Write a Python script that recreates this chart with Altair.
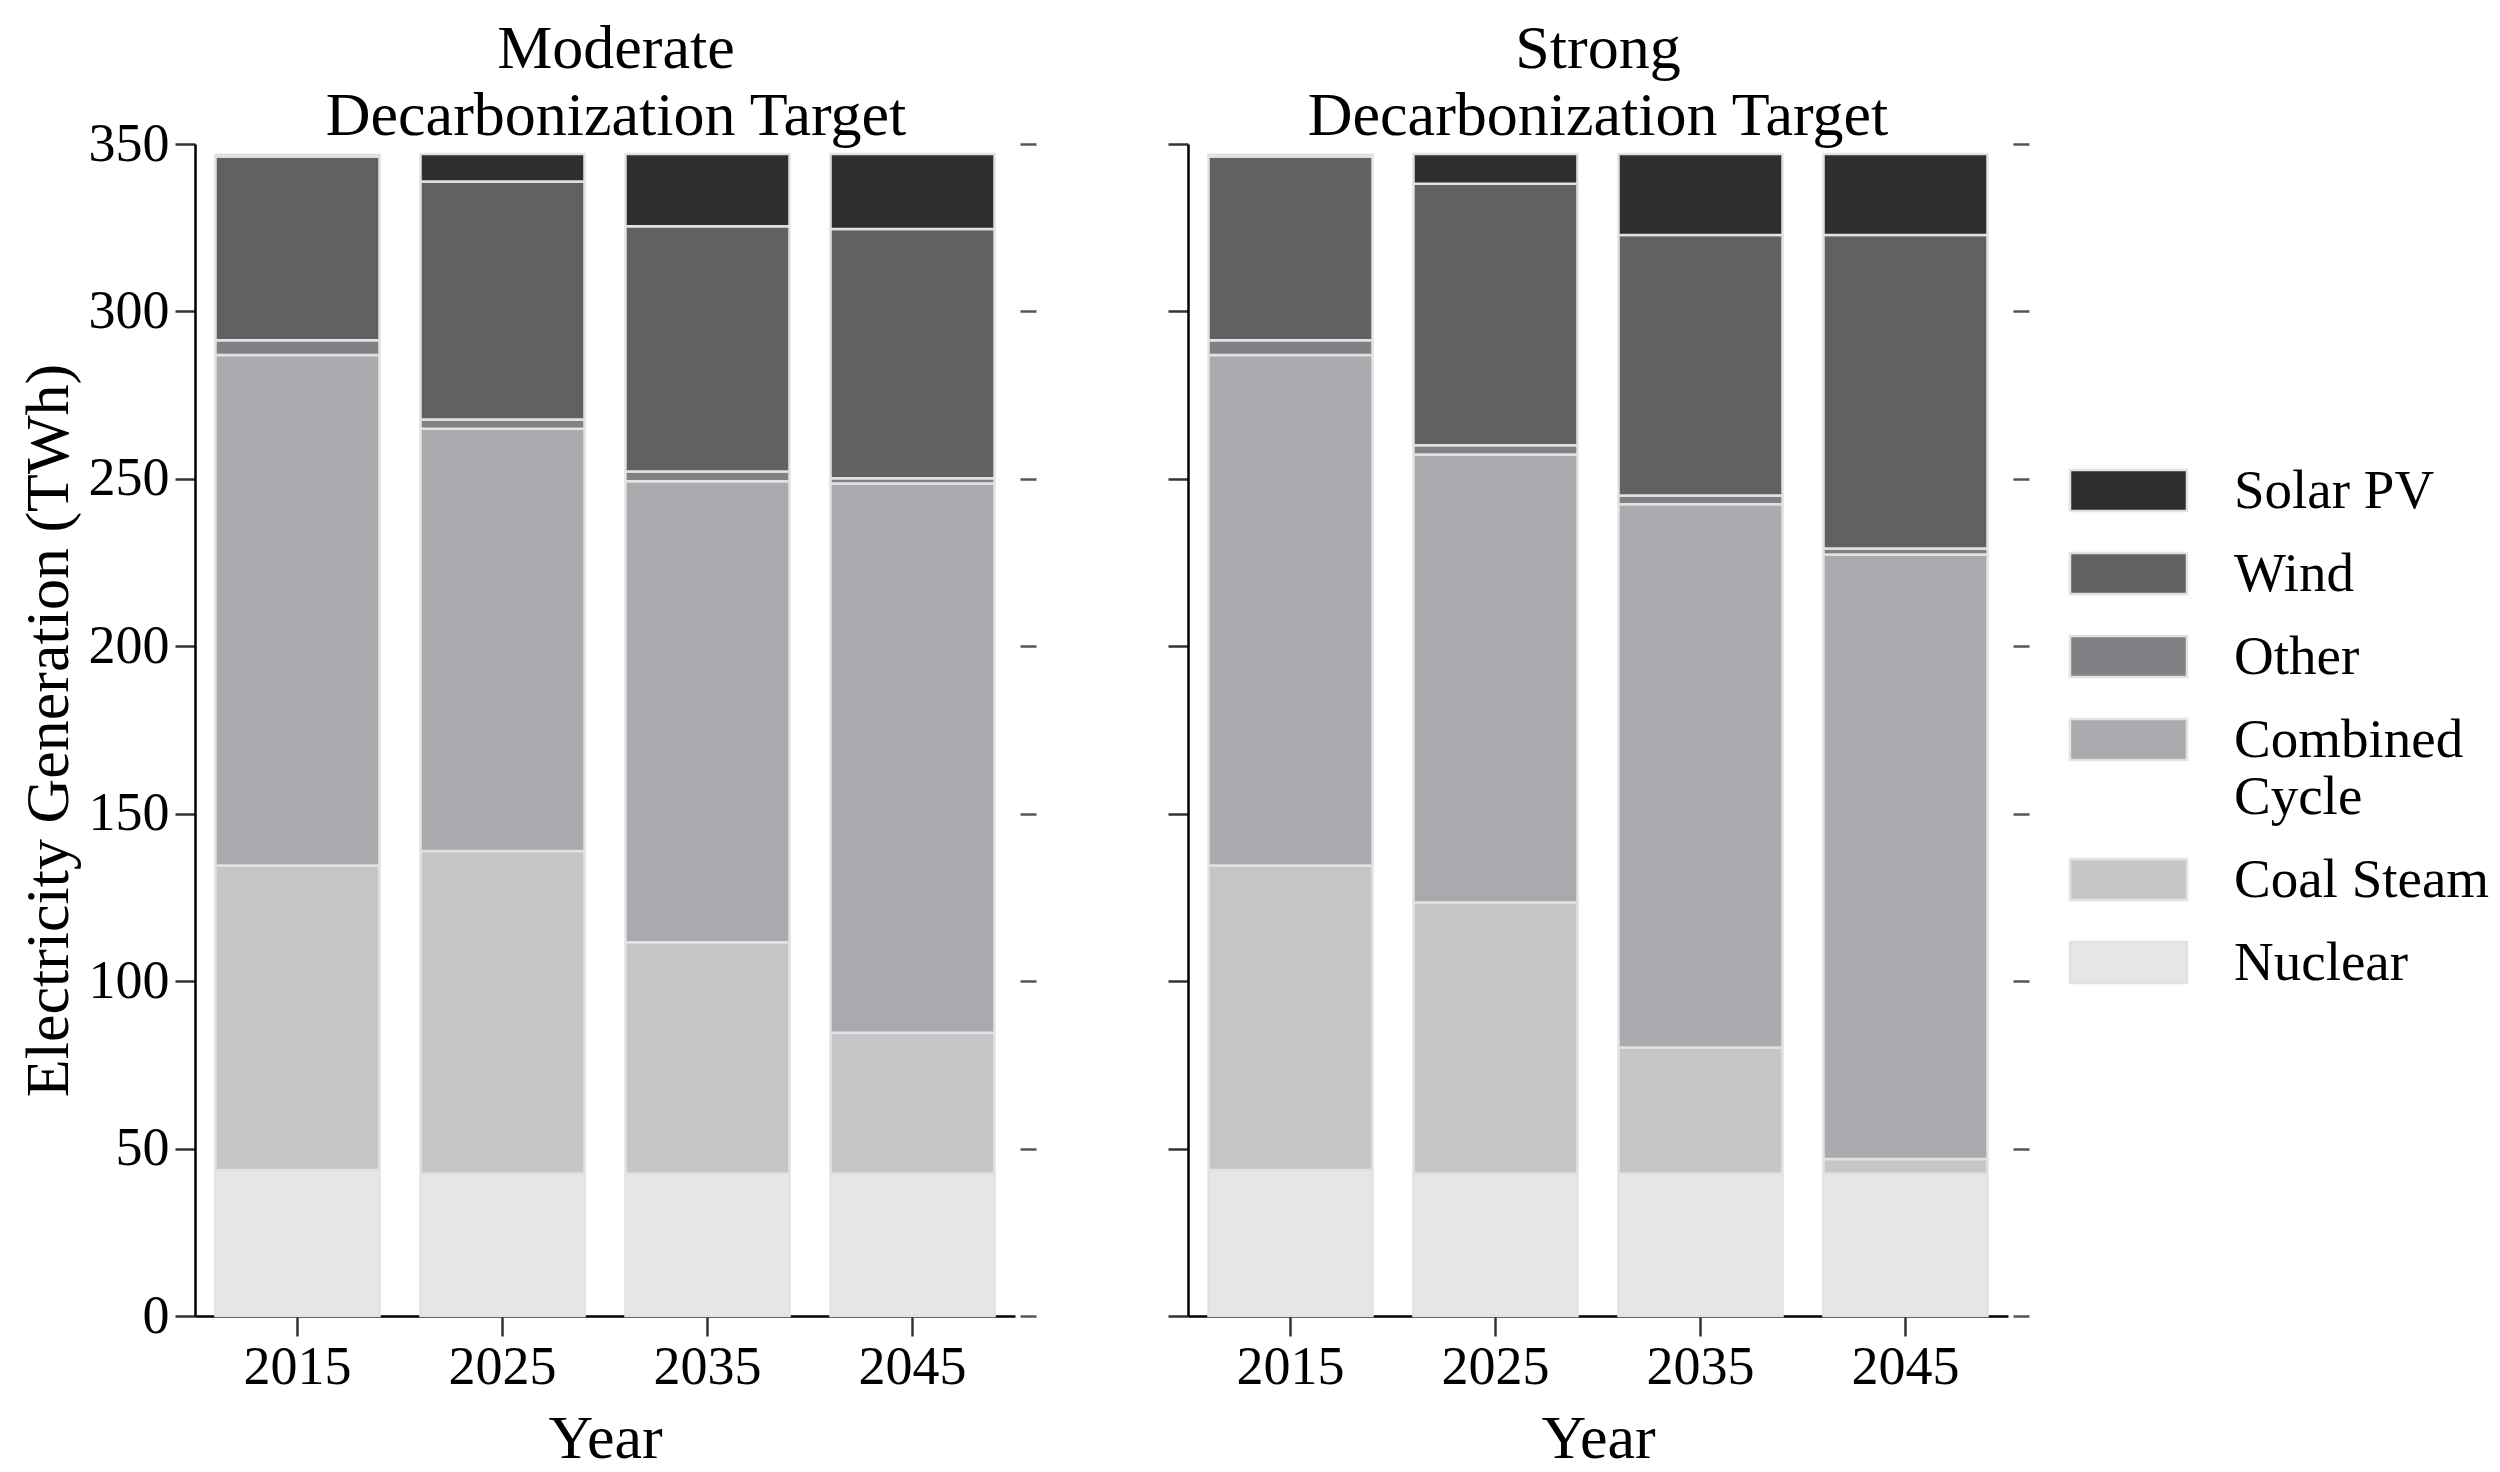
import pandas as pd
import altair as alt

years = ["2015", "2025", "2035", "2045"]
sources = ["Solar PV", "Wind", "Other", "Combined Cycle", "Coal Steam", "Nuclear"]
colors = ["#2e2e30", "#606163", "#808185", "#a9aaad", "#c5c6c8", "#e6e6e8"]
# bottom-to-top stacking
stack_order = ["Nuclear", "Coal Steam", "Combined Cycle", "Other", "Wind", "Solar PV"]

moderate = {
    "Nuclear": [43.6, 42.5, 42.5, 42.5],
    "Coal Steam": [90.9, 96.4, 69.1, 42.1],
    "Combined Cycle": [152.5, 126.1, 137.7, 164.0],
    "Other": [4.4, 2.7, 2.9, 1.6],
    "Wind": [54.9, 71.1, 73.2, 74.4],
    "Solar PV": [0.5, 8.2, 21.6, 22.4],
}
strong = {
    "Nuclear": [43.6, 42.5, 42.5, 42.5],
    "Coal Steam": [90.9, 81.0, 37.7, 4.4],
    "Combined Cycle": [152.5, 133.8, 162.2, 180.5],
    "Other": [4.4, 2.7, 2.6, 1.8],
    "Wind": [54.9, 78.1, 77.8, 93.6],
    "Solar PV": [0.5, 8.9, 24.2, 24.2],
}

FONT = "Liberation Serif"


def to_frame(values):
    rows = []
    for src, vals in values.items():
        for yr, v in zip(years, vals):
            rows.append({"Year": yr, "Source": src, "TWh": v,
                         "rank": stack_order.index(src)})
    return pd.DataFrame(rows)


def panel(values, title, first):
    df = to_frame(values)
    base = alt.Chart(df)
    y_scale = alt.Scale(domain=[0, 350], nice=False)
    if first:
        y_axis = alt.Axis(title="Electricity Generation (TWh)", values=list(range(0, 351, 50)),
                          labelPadding=6, titlePadding=8)
    else:
        y_axis = alt.Axis(title=None, labels=False, values=list(range(0, 351, 50)))
    bars = base.mark_bar(stroke="#e2e2e2", strokeWidth=2.5).encode(
        x=alt.X("Year:N", sort=years,
                scale=alt.Scale(paddingInner=0.2, paddingOuter=0.1),
                axis=alt.Axis(title="Year", labelAngle=0, labelPadding=4, titlePadding=14)),
        y=alt.Y("TWh:Q", stack="zero", scale=y_scale, axis=y_axis),
        color=alt.Color("Source:N", scale=alt.Scale(domain=sources, range=colors),
                        legend=alt.Legend(
                            title=None,
                            labelExpr="datum.label == 'Combined Cycle' ? ['Combined', 'Cycle'] : datum.label")),
        order=alt.Order("rank:Q"),
    )
    mirror = base.mark_point(opacity=0).encode(
        y=alt.Y("TWh:Q", scale=y_scale,
                axis=alt.Axis(orient="right", title=None, labels=False, domain=False,
                              values=list(range(0, 351, 50)), tickColor="#555555",
                              tickSize=16, offset=5)),
    )
    return alt.layer(bars, mirror).resolve_axis(y="independent").properties(
        width=820, height=1172,
        title=alt.TitleParams(text=title, fontSize=62, font=FONT, fontWeight="normal",
                              color="black", lineHeight=67,
                              offset=-31 if first else -5, dx=11 if first else 0),
    )


left = panel(moderate, ["Moderate", "Decarbonization Target"], True)
right = panel(strong, ["Strong", "Decarbonization Target"], False)

chart = alt.hconcat(left, right, spacing=128).properties(
    padding={"left": 9, "top": 9, "right": 0, "bottom": 0}
).configure_view(stroke=None).configure_axis(
    labelFont=FONT, titleFont=FONT, labelFontSize=54, titleFontSize=62,
    titleFontWeight="normal", labelColor="black", titleColor="black",
    domainColor="black", domainWidth=2.5, tickColor="#333333", tickWidth=2.5,
    tickSize=20, grid=False,
).configure_legend(
    orient="none", legendX=1906, legendY=319, padding=0,
    symbolType="M-2.854,-1L2.854,-1L2.854,1L-2.854,1Z", symbolSize=1681,
    symbolStrokeColor="#e2e2e2", symbolStrokeWidth=2.5, symbolOpacity=1,
    labelFont=FONT, labelFontSize=55, labelColor="black", labelOffset=78,
    labelLimit=500, rowPadding=27,
)

chart.save("out.html", embed_options={"renderer": "svg", "actions": False})
